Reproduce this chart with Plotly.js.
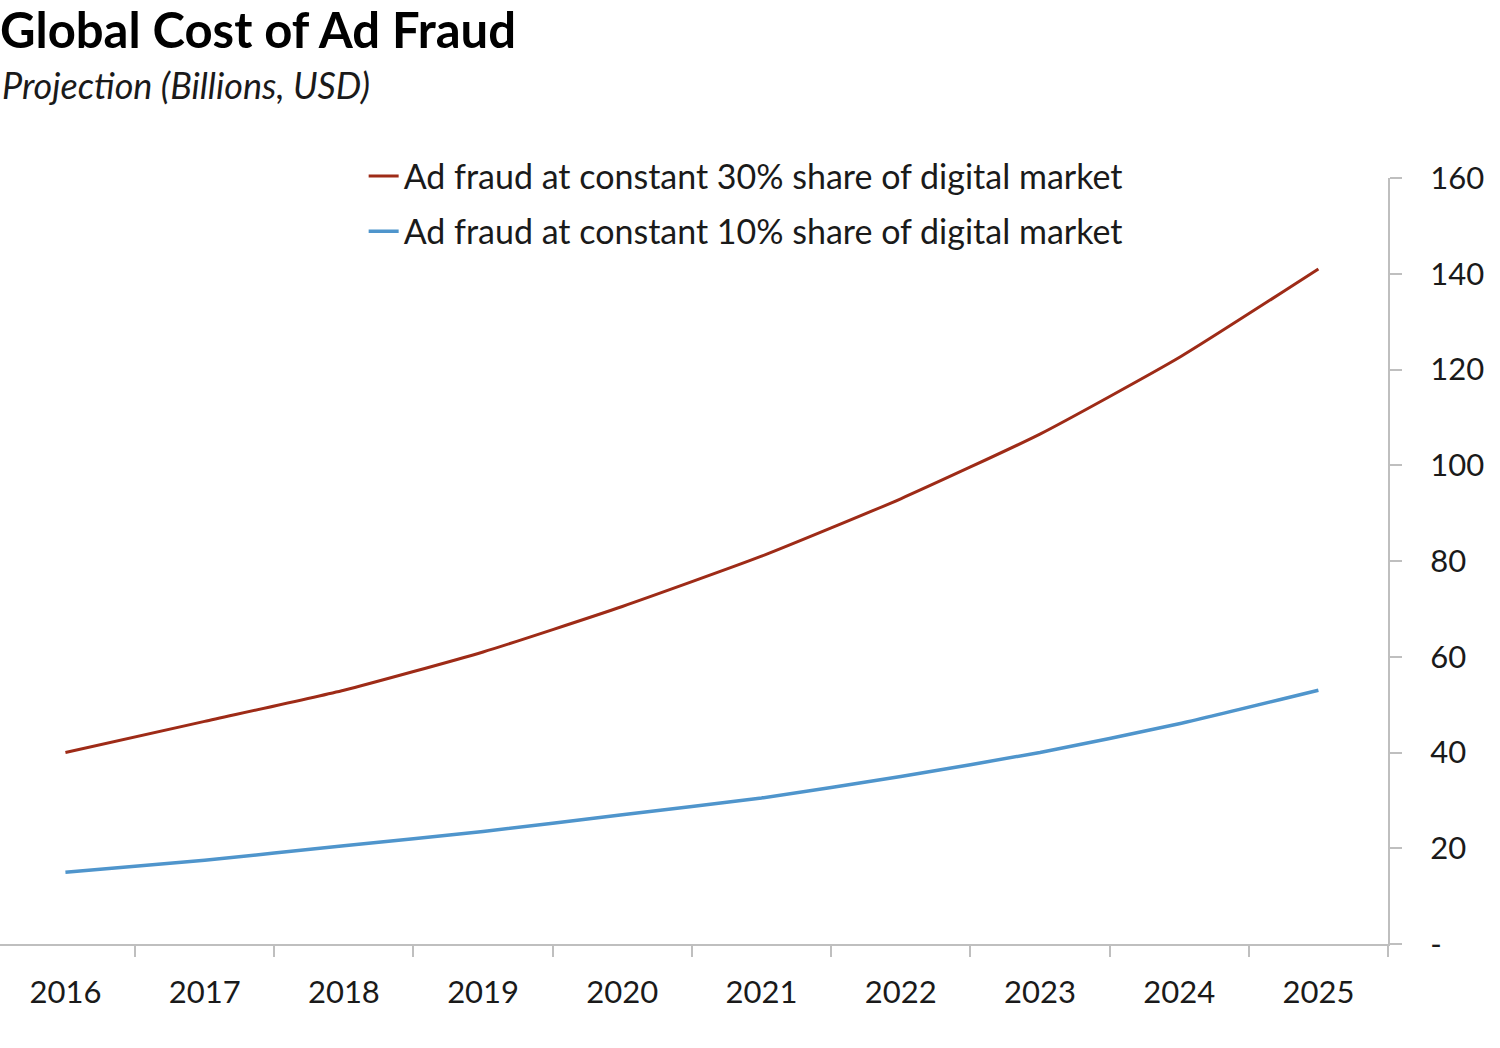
<!DOCTYPE html>
<html>
<head>
<meta charset="utf-8">
<script src="https://cdn.plot.ly/plotly-3.0.1.min.js"></script>
<style>
  html, body { margin: 0; padding: 0; background: #fff; }
  #chart { width: 1500px; height: 1048px; }
</style>
</head>
<body>
<div id="chart"></div>
<script>
const years = ['2016', '2017', '2018', '2019', '2020', '2021', '2022', '2023', '2024', '2025']
const share30 = [40, 46.5, 53, 61, 70.5, 81, 93, 106.5, 122.5, 141]
const share10 = [15, 17.5, 20.5, 23.5, 27, 30.5, 35, 40, 46, 53]
const yTicks = [0, 20, 40, 60, 80, 100, 120, 140, 160]
const yTickText = ['-', '20', '40', '60', '80', '100', '120', '140', '160']

const font = 'Lato, "Open Sans", sans-serif'
const axisGray = '#bfbfbf'

let trace30 = {
    type: 'scatter',
    mode: 'lines',
    name: 'Ad fraud at constant 30% share of digital market',
    x: years,
    y: share30,
    legendgroup: 'a',
    line: { color: '#9e2b17', width: 3, shape: 'spline', smoothing: 0.5 }
}
let trace10 = {
    type: 'scatter',
    mode: 'lines',
    name: 'Ad fraud at constant 10% share of digital market',
    x: years,
    y: share10,
    legendgroup: 'b',
    line: { color: '#4f95cc', width: 3.5, shape: 'spline', smoothing: 0.5 }
}

let layout = {
    width: 1500,
    height: 1048,
    margin: { l: 0, r: 112, t: 178, b: 104 },
    paper_bgcolor: '#fff',
    plot_bgcolor: '#fff',
    font: { family: font, size: 30, color: '#1a1a1a' },
    title: {
        text: '<b>Global Cost of Ad Fraud</b>',
        font: { family: font, size: 49, color: '#000' },
        x: 0, xref: 'container', xanchor: 'left',
        y: 0.987, yref: 'container', yanchor: 'top'
    },
    annotations: [{
        text: '<i>Projection (Billions, USD)</i>',
        xref: 'paper', yref: 'paper',
        x: 0, y: 1.153, xanchor: 'left', yanchor: 'top',
        showarrow: false,
        font: { family: font, size: 36, color: '#1a1a1a' }
    }],
    xaxis: {
        type: 'category',
        range: [-0.47, 9.5],
        tickson: 'boundaries',
        ticks: 'outside',
        ticklen: 11,
        tickcolor: axisGray,
        tickwidth: 2,
        showline: true,
        linecolor: axisGray,
        linewidth: 2,
        showgrid: false,
        zeroline: false,
        tickfont: { family: font, size: 31, color: '#1a1a1a' },
        ticklabelstandoff: 20,
        fixedrange: true
    },
    yaxis: {
        side: 'right',
        range: [0, 160],
        tickvals: yTicks,
        ticktext: yTickText,
        ticks: 'outside',
        ticklen: 12,
        tickcolor: axisGray,
        tickwidth: 2,
        showline: true,
        linecolor: axisGray,
        linewidth: 2,
        showgrid: false,
        zeroline: false,
        tickfont: { family: font, size: 31, color: '#1a1a1a' },
        ticklabelstandoff: 22,
        fixedrange: true
    },
    showlegend: true,
    legend: {
        x: 0.262, xanchor: 'left',
        y: 1.04, yanchor: 'top',
        bgcolor: 'rgba(0,0,0,0)',
        font: { family: font, size: 34, color: '#1a1a1a' },
        traceorder: 'grouped',
        tracegroupgap: 8,
        itemwidth: 30
    }
}

Plotly.newPlot('chart', [trace30, trace10], layout, { displayModeBar: false, staticPlot: true })
</script>
</body>
</html>
